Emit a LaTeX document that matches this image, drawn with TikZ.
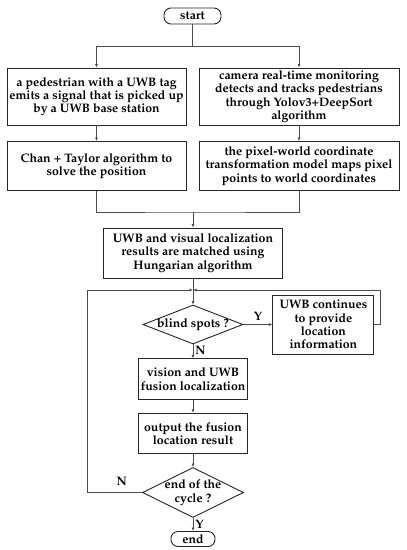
\documentclass[tikz,border=0pt]{standalone}
\usepackage[T1]{fontenc}
\usepackage{mathpazo}
\usetikzlibrary{shapes.geometric,arrows.meta}
\begin{document}
\begin{tikzpicture}[x=1pt,y=-1pt,
  every node/.style={font=\fontsize{12.3}{13.3}\selectfont\bfseries},
  box/.style={draw=black!85,line width=0.9pt,rectangle,align=center,inner sep=0pt},
  term/.style={draw=black!85,line width=0.9pt,rounded corners=7pt,align=center,inner sep=0pt},
  dia/.style={draw=black!85,line width=0.9pt,diamond,inner sep=0pt},
  conn/.style={draw=black!70,line width=0.8pt},
  arr/.style={conn,-{Latex[length=3.5pt,width=3pt]}},
  lab/.style={inner sep=0pt}]
\useasboundingbox (0,0) rectangle (407,550);
\fill[white] (0,0) rectangle (407,550);
\node[term,minimum width=57pt,minimum height=16pt] (start) at (192.5,16) {start};
\node[box,minimum width=179pt,minimum height=57pt] (b1l) at (96.5,96.5) {a pedestrian with a UWB tag\\emits a signal that is picked up\\by a UWB base station};
\node[box,minimum width=200pt,minimum height=57pt] (b1r) at (299,96.5) {camera real-time monitoring\\detects and tracks pedestrians\\through Yolov3+DeepSort\\algorithm};
\node[box,minimum width=179pt,minimum height=49pt] (b2l) at (96.5,166) {Chan + Taylor algorithm to\\solve the position};
\node[box,minimum width=200pt,minimum height=49pt] (b2r) at (299,166) {the pixel-world coordinate\\transformation model maps pixel\\points to world coordinates};
\node[box,minimum width=178.6pt,minimum height=50pt] (match) at (193,253) {UWB and visual localization\\results are matched using\\Hungarian algorithm};
\node[dia,minimum width=100pt,minimum height=39pt,label={[lab]center:blind spots ?}] (d1) at (193,324.5) {};
\node[box,minimum width=101pt,minimum height=59pt] (uwb) at (323.4,324.5) {UWB continues\\to provide\\location\\information};
\node[box,minimum width=109.4pt,minimum height=40.3pt] (vis) at (193,379) {vision and UWB\\fusion localization};
\node[box,minimum width=109.4pt,minimum height=40pt] (out) at (193,433.3) {output the fusion\\location result};
\node[dia,minimum width=101pt,minimum height=50pt,label={[lab,align=center]center:end of the\\cycle ?}] (d2) at (193,492.5) {};
\node[term,minimum width=44pt,minimum height=15pt] (end) at (193,539) {end};
\coordinate (split) at (192.5,46);
\coordinate (merge) at (193,212);
\coordinate (jn) at (193,290);
\coordinate (loopL) at (87.3,290);
\coordinate (loopR) at (380.3,290);
\draw[conn] (start) -- (split);
\draw[arr] (split) -| (b1l);
\draw[arr] (split) -| (b1r);
\draw[arr] (b1l) -- (b2l);
\draw[arr] (b1r) -- (b2r);
\draw[conn] (b2l) |- (merge) -| (b2r);
\draw[arr] (merge) -- (match);
\draw[conn] (match) -- (jn);
\draw[arr] (jn) -- (d1);
\draw[arr] (d1) -- node[lab,above=3pt] (ly1) {Y} (uwb);
\draw[arr] (d1) -- node[lab,right=2pt,pos=0.45] (ln1) {N} (vis);
\draw[arr] (vis) -- (out);
\draw[arr] (out) -- (d2);
\draw[arr] (d2) -- node[lab,right=2pt,pos=0.45] (ly2) {Y} (end);
\draw[arr] (d2) -| (loopL) -- (jn);
\draw[arr] (uwb) -| (loopR) -- (jn);
\node[lab] (ln2) at (121.7,481.7) {N};
\end{tikzpicture}
\end{document}
